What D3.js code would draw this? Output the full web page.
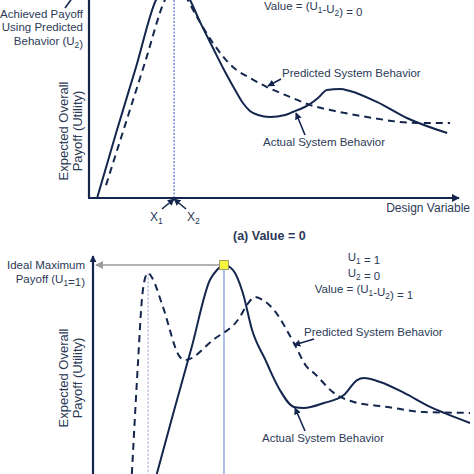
<!DOCTYPE html>
<html>
<head>
<meta charset="utf-8">
<script src="https://cdn.jsdelivr.net/npm/d3@7"></script>
<style>
  body { margin: 0; background: #fff; }
  svg { display: block; font-family: "Liberation Sans", Arial, sans-serif; }
  text { fill: #2b3a57; }
</style>
</head>
<body>
<div id="chart"></div>
<script>
// design variable (0-1) vs expected overall payoff / utility (0-1)
const topActual = [[0.022, 0], [0.074, 0.307], [0.128, 0.614], [0.181, 0.921], [0.205, 0.981], [0.230, 1.0],
  [0.251, 0.981], [0.273, 0.921], [0.300, 0.819], [0.335, 0.698], [0.368, 0.586], [0.395, 0.502],
  [0.416, 0.442], [0.435, 0.405], [0.457, 0.386], [0.489, 0.377], [0.530, 0.386], [0.551, 0.400],
  [0.597, 0.437], [0.619, 0.465], [0.643, 0.502], [0.678, 0.507], [0.705, 0.498], [0.778, 0.447],
  [0.859, 0.372], [0.968, 0.302]];
const topPredicted = [[0.046, 0.060], [0.099, 0.347], [0.152, 0.634], [0.205, 0.921], [0.219, 0.967],
  [0.238, 0.991], [0.259, 0.944], [0.286, 0.860], [0.335, 0.721], [0.389, 0.609], [0.435, 0.558],
  [0.481, 0.516], [0.543, 0.470], [0.597, 0.433], [0.678, 0.400], [0.751, 0.377], [0.886, 0.349],
  [0.976, 0.349]];
const bottomActual = [[0.168, 0], [0.217, 0.310], [0.267, 0.620], [0.316, 0.930], [0.335, 0.977],
  [0.354, 1.0], [0.378, 0.977], [0.405, 0.870], [0.430, 0.698], [0.470, 0.544], [0.478, 0.512],
  [0.505, 0.419], [0.543, 0.340], [0.570, 0.335], [0.624, 0.358], [0.678, 0.395], [0.714, 0.465],
  [0.732, 0.474], [0.776, 0.456], [0.841, 0.405], [0.911, 0.340], [0.949, 0.312], [1.019, 0.265]];
const bottomPredicted = [[0.105, 0.028], [0.122, 0.558], [0.132, 0.837], [0.141, 0.940], [0.149, 0.963],
  [0.160, 0.940], [0.189, 0.805], [0.235, 0.572], [0.249, 0.558], [0.324, 0.651], [0.397, 0.758],
  [0.416, 0.814], [0.438, 0.851], [0.459, 0.837], [0.489, 0.791], [0.543, 0.637], [0.578, 0.526],
  [0.597, 0.498], [0.651, 0.405], [0.705, 0.363], [0.795, 0.340], [0.895, 0.316], [1.019, 0.312]];
const topOptimum = 0.230;       // X1 = X2
const bottomOptimumActual = 0.354;
const bottomOptimumPredicted = 0.149;

const width = 474, height = 474;
const ink = "#14264d";

const svg = d3.select("#chart").append("svg")
  .attr("width", width)
  .attr("height", height);

const defs = svg.append("defs");
function marker(id, color, size) {
  defs.append("marker")
    .attr("id", id)
    .attr("viewBox", "0 0 10 10")
    .attr("refX", 9).attr("refY", 5)
    .attr("markerWidth", size).attr("markerHeight", size)
    .attr("markerUnits", "userSpaceOnUse")
    .attr("orient", "auto")
    .append("path")
    .attr("d", "M0,0L10,5L0,10z")
    .attr("fill", color);
}
marker("arrowInk", ink, 8);
marker("arrowGray", "#9a9a9a", 8);
marker("arrowSmall", ink, 7);

// scales
const xTop = d3.scaleLinear().domain([0, 1]).range([89, 459]);
const yTop = d3.scaleLinear().domain([0, 1]).range([198, -17]);
const xBot = d3.scaleLinear().domain([0, 1]).range([93, 463]);
const yBot = d3.scaleLinear().domain([0, 1]).range([480, 265]);

function sub(textSel, parts) {
  // parts: array of [string, isSubscript]
  parts.forEach(([s, isSub]) => {
    textSel.append("tspan")
      .attr("font-size", isSub ? "0.72em" : null)
      .attr("dy", isSub ? 3 : 0)
      .text(s);
    if (isSub) textSel.append("tspan").attr("dy", -3).text("");
  });
  return textSel;
}

function label(g, x, y, anchor, size, parts, weight) {
  const t = g.append("text")
    .attr("x", x).attr("y", y)
    .attr("text-anchor", anchor)
    .attr("font-size", size)
    .attr("font-weight", weight || null);
  return sub(t, parts);
}

function leader(g, x1, y1, x2, y2, m) {
  g.append("line")
    .attr("x1", x1).attr("y1", y1).attr("x2", x2).attr("y2", y2)
    .attr("stroke", ink).attr("stroke-width", 1.6)
    .attr("marker-end", m ? `url(#${m})` : null);
}

// ---------- panel (a) ----------
const panelA = svg.append("g").attr("class", "panelA");

panelA.append("line")
  .attr("x1", xTop(topOptimum)).attr("x2", xTop(topOptimum))
  .attr("y1", yTop(0)).attr("y2", 0)
  .attr("stroke", "#4f6fd6").attr("stroke-width", 1.2)
  .attr("stroke-dasharray", "2,1.5");

panelA.append("line")
  .attr("x1", xTop(0)).attr("x2", xTop(0))
  .attr("y1", yTop(0)).attr("y2", -5)
  .attr("stroke", ink).attr("stroke-width", 2.2);
panelA.append("line")
  .attr("x1", xTop(0) - 1).attr("x2", xTop(1))
  .attr("y1", yTop(0)).attr("y2", yTop(0))
  .attr("stroke", ink).attr("stroke-width", 2.2)
  .attr("marker-end", "url(#arrowInk)");

const lineTop = d3.line().x(d => xTop(d[0])).y(d => yTop(d[1])).curve(d3.curveMonotoneX);
panelA.append("path").datum(topPredicted)
  .attr("d", lineTop).attr("fill", "none")
  .attr("stroke", ink).attr("stroke-width", 2)
  .attr("stroke-dasharray", "7,5");
panelA.append("path").datum(topActual)
  .attr("d", lineTop).attr("fill", "none")
  .attr("stroke", ink).attr("stroke-width", 2);

label(panelA, 83, 18, "end", 11.5, [["Achieved Payoff", false]]);
label(panelA, 83, 31, "end", 11.5, [["Using Predicted", false]]);
label(panelA, 83, 45, "end", 11.5, [["Behavior (U", false], ["2", true], [")", false]]);
leader(panelA, 65, 8, 73, -3);

label(panelA, 264, 10, "start", 11.5, [["Value = (U", false], ["1", true], ["-U", false], ["2", true], [") = 0", false]]);

label(panelA, 282, 77, "start", 11.5, [["Predicted System Behavior", false]]);
leader(panelA, 281, 79, 268, 86, "arrowSmall");
label(panelA, 263, 146, "start", 11.5, [["Actual System Behavior", false]]);
leader(panelA, 305, 135, 296, 113, "arrowSmall");

label(panelA, 470, 212, "end", 12, [["Design Variable", false]]);
label(panelA, 150, 221, "start", 12, [["X", false], ["1", true]]);
label(panelA, 187, 221, "start", 12, [["X", false], ["2", true]]);
leader(panelA, 162, 209, xTop(topOptimum), yTop(0) + 1, "arrowSmall");
leader(panelA, 186, 209, xTop(topOptimum), yTop(0) + 1, "arrowSmall");

panelA.append("text")
  .attr("transform", "translate(68,131) rotate(-90)")
  .attr("text-anchor", "middle").attr("font-size", 13)
  .text("Expected Overall");
panelA.append("text")
  .attr("transform", "translate(82,131) rotate(-90)")
  .attr("text-anchor", "middle").attr("font-size", 13)
  .text("Payoff (Utility)");

label(panelA, 233, 240, "start", 12.5, [["(a) Value = 0", false]], "bold");

// ---------- panel (b) ----------
const panelB = svg.append("g").attr("class", "panelB");

panelB.append("line")
  .attr("x1", xBot(bottomOptimumPredicted)).attr("x2", xBot(bottomOptimumPredicted))
  .attr("y1", yBot(0.96)).attr("y2", height)
  .attr("stroke", "#8f9dcf").attr("stroke-width", 1)
  .attr("stroke-dasharray", "2,2");
panelB.append("line")
  .attr("x1", xBot(bottomOptimumActual)).attr("x2", xBot(bottomOptimumActual))
  .attr("y1", yBot(1)).attr("y2", height)
  .attr("stroke", "#7894d8").attr("stroke-width", 1.2);
panelB.append("line")
  .attr("x1", xBot(bottomOptimumActual) - 4).attr("x2", xBot(0) + 3)
  .attr("y1", yBot(1)).attr("y2", yBot(1))
  .attr("stroke", "#9a9a9a").attr("stroke-width", 1.3)
  .attr("marker-end", "url(#arrowGray)");

panelB.append("line")
  .attr("x1", xBot(0)).attr("x2", xBot(0))
  .attr("y1", height).attr("y2", 256)
  .attr("stroke", ink).attr("stroke-width", 2.2)
  .attr("marker-end", "url(#arrowSmall)");

const lineBot = d3.line().x(d => xBot(d[0])).y(d => yBot(d[1])).curve(d3.curveMonotoneX);
panelB.append("path").datum(bottomPredicted)
  .attr("d", lineBot).attr("fill", "none")
  .attr("stroke", ink).attr("stroke-width", 2)
  .attr("stroke-dasharray", "7,5");
panelB.append("path").datum(bottomActual)
  .attr("d", lineBot).attr("fill", "none")
  .attr("stroke", ink).attr("stroke-width", 2);

panelB.append("rect")
  .attr("x", xBot(bottomOptimumActual) - 4.5).attr("y", yBot(1) - 4.5)
  .attr("width", 9).attr("height", 9)
  .attr("fill", "#f7f53c").attr("stroke", "#8a8a6a").attr("stroke-width", 0.8);

label(panelB, 85, 269, "end", 11.5, [["Ideal Maximum", false]]);
label(panelB, 85, 283, "end", 11.5, [["Payoff (U", false], ["1", true], ["=1)", false]]);

label(panelB, 364, 261, "middle", 11.5, [["U", false], ["1", true], [" = 1", false]]);
label(panelB, 364, 277, "middle", 11.5, [["U", false], ["2", true], [" = 0", false]]);
label(panelB, 364, 293, "middle", 11.5, [["Value = (U", false], ["1", true], ["-U", false], ["2", true], [") = 1", false]]);

label(panelB, 304, 336, "start", 11.5, [["Predicted System Behavior", false]]);
leader(panelB, 314, 339, 294, 345, "arrowSmall");
label(panelB, 262, 442, "start", 11.5, [["Actual System Behavior", false]]);
leader(panelB, 305, 431, 295, 408, "arrowSmall");

panelB.append("text")
  .attr("transform", "translate(68,378) rotate(-90)")
  .attr("text-anchor", "middle").attr("font-size", 13)
  .text("Expected Overall");
panelB.append("text")
  .attr("transform", "translate(82,378) rotate(-90)")
  .attr("text-anchor", "middle").attr("font-size", 13)
  .text("Payoff (Utility)");
</script>
</body>
</html>
